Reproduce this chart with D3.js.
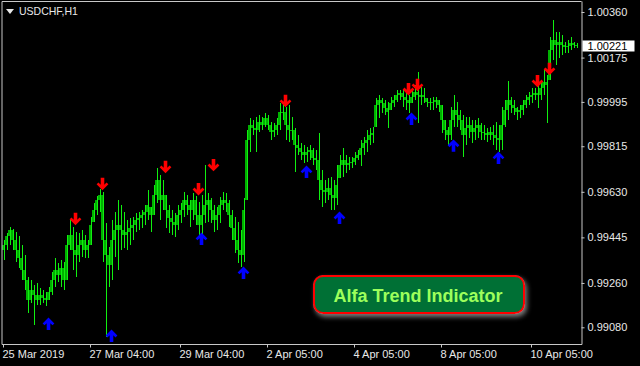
<!DOCTYPE html>
<html>
<head>
<meta charset="utf-8">
<script src="https://cdn.jsdelivr.net/npm/d3@7"></script>
<style>
  html, body { margin: 0; padding: 0; background: #000; overflow: hidden; }
  #chart { width: 640px; height: 366px; }
  text { font-family: "Liberation Sans", Arial, sans-serif; }
</style>
</head>
<body>
<div id="chart"></div>
<script>
// USDCHF H1 bars with Alfa Trend arrows, MetaTrader look

const symbol = "USDCHF,H1";
const bannerText = "Alfa Trend Indicator";
const lastPrice = 1.00221;
const firstOpen = 0.99394;

const highs = [
  0.99435, 0.99463, 0.99487, 0.99479, 0.99467, 0.99451, 0.99414, 0.99374, 0.99284, 0.99272,
  0.99252, 0.99260, 0.99240, 0.99232, 0.99223, 0.99244, 0.99305, 0.99362, 0.99341, 0.99353,
  0.99345, 0.99455, 0.99516, 0.99487, 0.99467, 0.99463, 0.99475, 0.99455, 0.99435, 0.99528,
  0.99585, 0.99613, 0.99642, 0.99629, 0.99504, 0.99406, 0.99516, 0.99548, 0.99597, 0.99577,
  0.99548, 0.99516, 0.99524, 0.99528, 0.99544, 0.99548, 0.99556, 0.99577, 0.99638, 0.99569,
  0.99658, 0.99727, 0.99699, 0.99678, 0.99617, 0.99577, 0.99556, 0.99544, 0.99577, 0.99585,
  0.99629, 0.99617, 0.99597, 0.99625, 0.99613, 0.99589, 0.99617, 0.99739, 0.99625, 0.99605,
  0.99577, 0.99569, 0.99609, 0.99629, 0.99625, 0.99597, 0.99556, 0.99528, 0.99508, 0.99475,
  0.99605, 0.99881, 0.99930, 0.99922, 0.99934, 0.99942, 0.99934, 0.99950, 0.99942, 0.99914,
  0.99910, 0.99930, 0.99991, 0.99983, 0.99975, 0.99983, 0.99934, 0.99889, 0.99861, 0.99828,
  0.99820, 0.99812, 0.99820, 0.99808, 0.99800, 0.99869, 0.99719, 0.99678, 0.99686, 0.99690,
  0.99678, 0.99739, 0.99780, 0.99808, 0.99780, 0.99772, 0.99772, 0.99792, 0.99800, 0.99841,
  0.99853, 0.99881, 0.99889, 0.99893, 1.00011, 1.00023, 1.00011, 1.00003, 0.99995, 1.00015,
  1.00023, 1.00044, 1.00044, 1.00044, 1.00031, 1.00023, 1.00044, 1.00064, 1.00117, 1.00056,
  1.00052, 1.00011, 1.00011, 1.00015, 1.00015, 1.00003, 0.99983, 0.99922, 0.99893, 0.99975,
  1.00023, 0.99995, 0.99962, 0.99942, 0.99934, 0.99934, 0.99922, 0.99922, 0.99930, 0.99910,
  0.99902, 0.99889, 0.99893, 0.99902, 0.99914, 0.99902, 0.99975, 1.00003, 1.00080, 1.00015,
  1.00003, 0.99975, 0.99983, 1.00003, 1.00023, 1.00035, 1.00052, 1.00052, 1.00064, 1.00084,
  1.00125, 1.00105, 1.00259, 1.00328, 1.00279, 1.00279, 1.00267, 1.00239, 1.00247, 1.00259,
  1.00239, 1.00234
];

const lows = [
  0.99353, 0.99394, 0.99414, 0.99394, 0.99345, 0.99321, 0.99272, 0.99232, 0.99138, 0.99179,
  0.99090, 0.99171, 0.99171, 0.99179, 0.99167, 0.99191, 0.99211, 0.99244, 0.99264, 0.99244,
  0.99232, 0.99272, 0.99394, 0.99313, 0.99284, 0.99345, 0.99366, 0.99362, 0.99362, 0.99414,
  0.99508, 0.99536, 0.99548, 0.99345, 0.99041, 0.99244, 0.99272, 0.99366, 0.99313, 0.99394,
  0.99402, 0.99394, 0.99414, 0.99435, 0.99467, 0.99475, 0.99483, 0.99496, 0.99516, 0.99467,
  0.99536, 0.99585, 0.99516, 0.99556, 0.99483, 0.99463, 0.99455, 0.99447, 0.99475, 0.99504,
  0.99528, 0.99536, 0.99487, 0.99516, 0.99496, 0.99447, 0.99455, 0.99504, 0.99508, 0.99504,
  0.99467, 0.99475, 0.99504, 0.99556, 0.99548, 0.99487, 0.99435, 0.99382, 0.99341, 0.99325,
  0.99345, 0.99597, 0.99792, 0.99861, 0.99792, 0.99873, 0.99881, 0.99893, 0.99881, 0.99841,
  0.99853, 0.99861, 0.99881, 0.99922, 0.99841, 0.99832, 0.99841, 0.99711, 0.99780, 0.99759,
  0.99747, 0.99751, 0.99759, 0.99739, 0.99719, 0.99597, 0.99569, 0.99585, 0.99597, 0.99556,
  0.99556, 0.99577, 0.99686, 0.99690, 0.99707, 0.99719, 0.99727, 0.99739, 0.99759, 0.99735,
  0.99780, 0.99792, 0.99820, 0.99828, 0.99893, 0.99930, 0.99950, 0.99942, 0.99889, 0.99962,
  0.99975, 0.99995, 1.00003, 0.99975, 0.99962, 0.99950, 0.99991, 1.00003, 0.99910, 0.99983,
  0.99991, 0.99975, 0.99962, 0.99962, 0.99971, 0.99954, 0.99869, 0.99841, 0.99820, 0.99841,
  0.99893, 0.99893, 0.99881, 0.99772, 0.99820, 0.99849, 0.99828, 0.99841, 0.99849, 0.99841,
  0.99841, 0.99832, 0.99841, 0.99820, 0.99800, 0.99792, 0.99800, 0.99893, 0.99922, 0.99950,
  0.99942, 0.99922, 0.99930, 0.99942, 0.99971, 0.99983, 0.99991, 1.00003, 0.99971, 1.00003,
  1.00023, 0.99910, 1.00084, 1.00165, 1.00145, 1.00174, 1.00186, 1.00194, 1.00194, 1.00206,
  1.00214, 1.00214
];

const closes = [
  0.99414, 0.99451, 0.99475, 0.99435, 0.99394, 0.99362, 0.99313, 0.99272, 0.99191, 0.99232,
  0.99211, 0.99191, 0.99211, 0.99199, 0.99191, 0.99223, 0.99272, 0.99313, 0.99293, 0.99321,
  0.99272, 0.99414, 0.99455, 0.99394, 0.99374, 0.99414, 0.99435, 0.99394, 0.99414, 0.99496,
  0.99556, 0.99597, 0.99617, 0.99435, 0.99374, 0.99333, 0.99435, 0.99475, 0.99496, 0.99475,
  0.99455, 0.99467, 0.99483, 0.99496, 0.99516, 0.99524, 0.99536, 0.99548, 0.99577, 0.99536,
  0.99617, 0.99678, 0.99597, 0.99617, 0.99556, 0.99524, 0.99508, 0.99496, 0.99536, 0.99556,
  0.99597, 0.99577, 0.99556, 0.99597, 0.99536, 0.99496, 0.99536, 0.99577, 0.99597, 0.99556,
  0.99516, 0.99536, 0.99577, 0.99597, 0.99585, 0.99536, 0.99483, 0.99435, 0.99394, 0.99374,
  0.99556, 0.99841, 0.99902, 0.99889, 0.99881, 0.99914, 0.99902, 0.99930, 0.99902, 0.99873,
  0.99881, 0.99902, 0.99954, 0.99954, 0.99902, 0.99881, 0.99881, 0.99820, 0.99808, 0.99792,
  0.99780, 0.99792, 0.99800, 0.99768, 0.99759, 0.99678, 0.99638, 0.99629, 0.99646, 0.99617,
  0.99605, 0.99658, 0.99739, 0.99759, 0.99739, 0.99747, 0.99751, 0.99768, 0.99780, 0.99808,
  0.99828, 0.99841, 0.99861, 0.99869, 0.99983, 1.00003, 0.99991, 0.99971, 0.99954, 0.99991,
  1.00003, 1.00023, 1.00031, 1.00015, 1.00003, 0.99991, 1.00015, 1.00035, 1.00023, 1.00015,
  1.00023, 0.99995, 0.99991, 0.99995, 1.00003, 0.99983, 0.99922, 0.99881, 0.99861, 0.99922,
  0.99962, 0.99942, 0.99922, 0.99861, 0.99889, 0.99902, 0.99873, 0.99889, 0.99902, 0.99873,
  0.99869, 0.99861, 0.99873, 0.99861, 0.99849, 0.99841, 0.99902, 0.99962, 1.00003, 0.99983,
  0.99971, 0.99954, 0.99962, 0.99983, 1.00003, 1.00015, 1.00023, 1.00031, 1.00023, 1.00052,
  1.00076, 1.00064, 1.00206, 1.00247, 1.00226, 1.00239, 1.00226, 1.00218, 1.00222, 1.00234,
  1.00226, 1.00221
];

// [bar index, arrow tip price]
const sellArrows = [
  [24, 0.99496], [33, 0.99638], [54, 0.99707], [65, 0.99617], [70, 0.99715],
  [94, 0.99975], [135, 1.00023], [138, 1.00040], [178, 1.00056], [182, 1.00105]
];
const buyArrows = [
  [15, 0.99118], [36, 0.99069], [66, 0.99463], [80, 0.99325], [101, 0.99735],
  [112, 0.99548], [136, 0.99950], [150, 0.99841], [165, 0.99792]
];

const priceTicks = [1.00360, 1.00175, 0.99995, 0.99815, 0.99630, 0.99445, 0.99260, 0.99080];
const timeTicks = [
  [0, "25 Mar 2019"], [29, "27 Mar 04:00"], [59, "29 Mar 04:00"], [88, "2 Apr 05:00"],
  [117, "4 Apr 05:00"], [146, "8 Apr 05:00"], [176, "10 Apr 05:00"]
];

(function () {
  "use strict";

  const width = 640;
  const height = 366;
  const plot = { left: 2, top: 1.5, right: 581.5, bottom: 344.5 };

  const palette = {
    bg: "#000000",
    frame: "#c8c8c8",
    text: "#e8e8e8",
    wick: "#10f010",
    body: "#00b000",
    sell: "#ff0000",
    buy: "#0000ff",
  };

  const svg = d3
    .select("#chart")
    .append("svg")
    .attr("width", width)
    .attr("height", height)
    .style("background", palette.bg);

  // --- Scales ---
  const x = d3.scaleLinear().domain([0, 191]).range([3, 576]);
  const y = d3.scaleLinear().domain([0.9908, 1.0036]).range([327.3, 12]);

  // --- Bars ---
  const bars = highs.map((h, i) => ({
    i,
    high: h,
    low: lows[i],
    open: i === 0 ? firstOpen : closes[i - 1],
    close: closes[i],
  }));

  const barG = svg.append("g").attr("shape-rendering", "crispEdges");

  // body: 2px dark column, wick: 1px lime column on its right
  barG
    .selectAll("rect.body")
    .data(bars)
    .join("rect")
    .attr("class", "body")
    .attr("x", (d) => Math.round(x(d.i)) - 1)
    .attr("y", (d) => y(Math.min(d.high, Math.max(d.open, d.close))))
    .attr("width", 2)
    .attr("height", (d) => {
      const top = y(Math.min(d.high, Math.max(d.open, d.close)));
      const bot = y(Math.max(d.low, Math.min(d.open, d.close)));
      return Math.max(1, bot - top);
    })
    .attr("fill", palette.body);

  barG
    .selectAll("rect.wick")
    .data(bars)
    .join("rect")
    .attr("class", "wick")
    .attr("x", (d) => Math.round(x(d.i)) + 1)
    .attr("y", (d) => y(d.high))
    .attr("width", 1)
    .attr("height", (d) => Math.max(1, y(d.low) - y(d.high)))
    .attr("fill", palette.wick);

  // --- Arrows ---
  const downArrow = "M-1.8,-12H1.8V-5.2L4,-7.4L5.9,-5.5L0,0.4L-5.9,-5.5L-4,-7.4L-1.8,-5.2Z";
  const upArrow = "M-1.8,12H1.8V5.2L4,7.4L5.9,5.5L0,-0.4L-5.9,5.5L-4,7.4L-1.8,5.2Z";

  svg
    .append("g")
    .selectAll("path")
    .data(sellArrows)
    .join("path")
    .attr("d", downArrow)
    .attr("transform", (d) => `translate(${Math.round(x(d[0])) + 0.5},${y(d[1])})`)
    .attr("fill", palette.sell);

  svg
    .append("g")
    .selectAll("path")
    .data(buyArrows)
    .join("path")
    .attr("d", upArrow)
    .attr("transform", (d) => `translate(${Math.round(x(d[0])) + 0.5},${y(d[1])})`)
    .attr("fill", palette.buy);

  // --- Frame ---
  const frame = svg.append("g").attr("stroke", palette.frame).attr("stroke-width", 1);
  frame.append("line").attr("x1", plot.left).attr("x2", plot.right).attr("y1", plot.top).attr("y2", plot.top);
  frame.append("line").attr("x1", plot.left).attr("x2", plot.left).attr("y1", plot.top).attr("y2", plot.bottom);

  // --- Price axis ---
  const yAxis = d3
    .axisRight(y)
    .tickValues(priceTicks)
    .tickFormat(d3.format(".5f"))
    .tickSizeInner(3)
    .tickSizeOuter(0)
    .tickPadding(3);

  const yg = svg.append("g").attr("transform", `translate(${plot.right},0)`).call(yAxis);
  yg.select(".domain").attr("stroke", palette.frame).attr("d", `M0.5,${plot.top}V${plot.bottom}`);
  yg.selectAll(".tick line").attr("stroke", palette.frame);
  yg.selectAll(".tick text").attr("fill", palette.text).attr("font-size", "11px").attr("font-family", "Liberation Sans, Arial, sans-serif");

  // --- Time axis ---
  const xAxis = d3
    .axisBottom(x)
    .tickValues(timeTicks.map((t) => t[0]))
    .tickFormat((v) => timeTicks.find((t) => t[0] === v)[1])
    .tickSizeInner(3)
    .tickSizeOuter(0)
    .tickPadding(3);

  const xg = svg.append("g").attr("transform", `translate(0,${plot.bottom})`).call(xAxis);
  xg.select(".domain").attr("stroke", palette.frame).attr("d", `M${plot.left},0H${plot.right + 0.5}`);
  xg.selectAll(".tick line").attr("stroke", palette.frame);
  xg.selectAll(".tick text")
    .attr("fill", palette.text)
    .attr("font-size", "11px")
    .attr("font-family", "Liberation Sans, Arial, sans-serif")
    .attr("text-anchor", "start")
    .attr("x", -1);

  // --- Current price tag ---
  const yLast = y(lastPrice);
  svg
    .append("rect")
    .attr("x", plot.right + 1)
    .attr("y", Math.round(yLast) - 5.5)
    .attr("width", 52)
    .attr("height", 11)
    .attr("fill", "#ffffff");
  svg
    .append("text")
    .attr("x", plot.right + 6)
    .attr("y", Math.round(yLast) + 4)
    .attr("fill", "#000000")
    .attr("font-size", "11px")
    .text(d3.format(".5f")(lastPrice));

  // --- Title ---
  svg.append("path").attr("d", "M6,9H14L10,14Z").attr("fill", palette.text);
  svg
    .append("text")
    .attr("x", 19)
    .attr("y", 15)
    .attr("fill", palette.text)
    .attr("font-size", "10.5px")
    .text(symbol);

  // --- Banner ---
  const defs = svg.append("defs");
  const shadow = defs.append("filter").attr("id", "glow").attr("x", "-20%").attr("y", "-40%").attr("width", "140%").attr("height", "190%");
  shadow.append("feDropShadow")
    .attr("dx", 2)
    .attr("dy", 3)
    .attr("stdDeviation", 2.5)
    .attr("flood-color", "#9a9a9a")
    .attr("flood-opacity", 0.8);

  const banner = svg.append("g");
  banner
    .append("rect")
    .attr("x", 314)
    .attr("y", 276)
    .attr("width", 210)
    .attr("height", 37)
    .attr("rx", 9)
    .attr("fill", "#007035")
    .attr("stroke", "#ff0000")
    .attr("stroke-width", 2)
    .attr("filter", "url(#glow)");
  banner
    .append("text")
    .attr("x", 418)
    .attr("y", 301.5)
    .attr("text-anchor", "middle")
    .attr("fill", "#9cff5c")
    .attr("font-size", "18px")
    .attr("font-weight", "bold")
    .text(bannerText);
})();
</script>
</body>
</html>
